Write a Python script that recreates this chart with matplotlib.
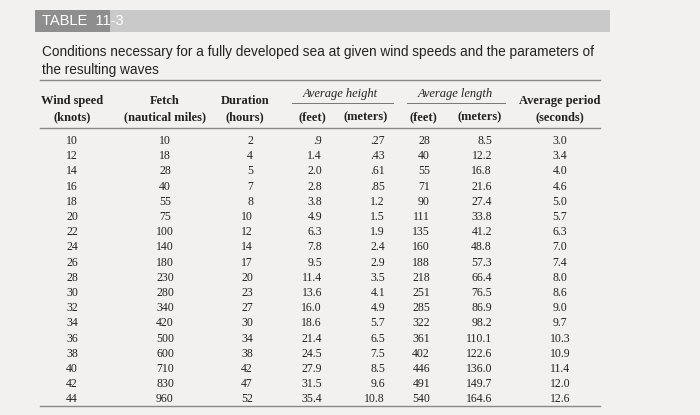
import matplotlib
matplotlib.use("Agg")
import matplotlib.pyplot as plt
from matplotlib.patches import Rectangle

wind_knots = [10, 12, 14, 16, 18, 20, 22, 24, 26, 28, 30, 32, 34, 36, 38, 40, 42, 44]
fetch_nm = ["10", "18", "28", "40", "55", "75", "100", "140", "180", "230", "280", "340",
            "420", "500", "600", "710", "830", "960"]
duration_h = ["2", "4", "5", "7", "8", "10", "12", "14", "17", "20", "23", "27", "30",
              "34", "38", "42", "47", "52"]
height_ft = [".9", "1.4", "2.0", "2.8", "3.8", "4.9", "6.3", "7.8", "9.5", "11.4", "13.6",
             "16.0", "18.6", "21.4", "24.5", "27.9", "31.5", "35.4"]
height_m = [".27", ".43", ".61", ".85", "1.2", "1.5", "1.9", "2.4", "2.9", "3.5", "4.1",
            "4.9", "5.7", "6.5", "7.5", "8.5", "9.6", "10.8"]
length_ft = ["28", "40", "55", "71", "90", "111", "135", "160", "188", "218", "251", "285",
             "322", "361", "402", "446", "491", "540"]
length_m = ["8.5", "12.2", "16.8", "21.6", "27.4", "33.8", "41.2", "48.8", "57.3", "66.4",
            "76.5", "86.9", "98.2", "110.1", "122.6", "136.0", "149.7", "164.6"]
period_s = ["3.0", "3.4", "4.0", "4.6", "5.0", "5.7", "6.3", "7.0", "7.4", "8.0", "8.6",
            "9.0", "9.7", "10.3", "10.9", "11.4", "12.0", "12.6"]

W, H = 700, 415
fig = plt.figure(figsize=(7, 4.15), dpi=100, facecolor="#f2f1ef")
ax = fig.add_axes([0, 0, 1, 1])
ax.set_xlim(0, W)
ax.set_ylim(H, 0)
ax.axis("off")

serif = "Liberation Serif"
sans = "Liberation Sans"
ink = "#222222"

# header band
ax.add_patch(Rectangle((35, 10), 575, 22, color="#c9c9c9", lw=0))
ax.add_patch(Rectangle((35, 10), 75, 22, color="#8e8e8e", lw=0))
ax.text(42, 21, "TABLE  11-3", family=sans, fontsize=10.5, color="white", va="center")

ax.text(42, 52, "Conditions necessary for a fully developed sea at given wind speeds and the parameters of",
        family=sans, fontsize=9.8, color=ink, va="center")
ax.text(42, 70, "the resulting waves", family=sans, fontsize=9.8, color=ink, va="center")

ax.plot([40, 600], [80, 80], color="#888888", lw=1)
ax.plot([40, 600], [128, 128], color="#888888", lw=1)
ax.plot([40, 600], [406, 406], color="#888888", lw=1)
ax.plot([292, 393], [103, 103], color="#777777", lw=0.7)
ax.plot([407, 505], [103, 103], color="#777777", lw=0.7)

hdr = dict(family=serif, fontsize=9, color=ink, ha="center", va="center", fontweight="bold")
ax.text(72, 101, "Wind speed", **hdr)
ax.text(72, 117, "(knots)", **hdr)
ax.text(165, 101, "Fetch", **hdr)
ax.text(165, 117, "(nautical miles)", **hdr)
ax.text(245, 101, "Duration", **hdr)
ax.text(245, 117, "(hours)", **hdr)
ax.text(340, 94, "Average height", family=serif, fontsize=9, style="italic", color=ink, ha="center", va="center")
ax.text(455, 94, "Average length", family=serif, fontsize=9, style="italic", color=ink, ha="center", va="center")
ax.text(312, 117, "(feet)", **hdr)
ax.text(366, 117, "(meters)", **hdr)
ax.text(423, 117, "(feet)", **hdr)
ax.text(480, 117, "(meters)", **hdr)
ax.text(560, 101, "Average period", **hdr)
ax.text(560, 117, "(seconds)", **hdr)

cols = [
    ([str(v) for v in wind_knots], 72, "center"),
    (fetch_nm, 165, "center"),
    (duration_h, 253, "right"),
    (height_ft, 322, "right"),
    (height_m, 385, "right"),
    (length_ft, 430, "right"),
    (length_m, 492, "right"),
    (period_s, 560, "center"),
]
y0, dy = 141, 15.2
for vals, x, ha in cols:
    for i, v in enumerate(vals):
        ax.text(x, y0 + i * dy, v, family=serif, fontsize=8.5, color=ink, ha=ha, va="center")

fig.savefig("out.png", dpi=100, facecolor=fig.get_facecolor())
